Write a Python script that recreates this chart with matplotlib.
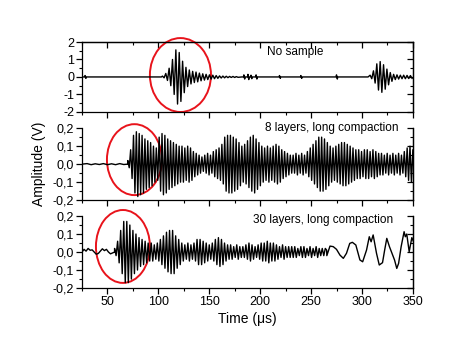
import numpy as np
import matplotlib.pyplot as plt
from matplotlib.patches import Ellipse
from matplotlib.ticker import MultipleLocator

plt.rcParams['font.family'] = ['Liberation Sans', 'DejaVu Sans']

# ---------- panel 1 : no sample (amplitude of each cycle, V) ----------
burst1a_start, burst1a_period = 104.0, 3.3
burst1a_amp = [0.05, 0.2, 0.5, 1.0, 1.55, 1.4, 0.9, 0.55, 0.4, 0.32, 0.28, 0.22,
               0.18, 0.15, 0.12, 0.1, 0.08, 0.06, 0.05, 0.04, 0.03, 0.03, 0.02]
burst1b_start, burst1b_period = 308.0, 3.3
burst1b_amp = [0.1, 0.35, 0.75, 0.88, 0.7, 0.45, 0.25, 0.15, 0.12, 0.1, 0.1, 0.09, 0.08]
blip1_t = [28, 184, 188, 191, 196, 219, 240, 275]
blip1_v = [0.08, 0.12, 0.15, 0.1, 0.12, 0.08, 0.08, 0.12]
flat1_t = [25, 60, 103, 182, 200, 230, 260, 290, 306]

# ---------- panel 2 : 8 layers ----------
pre2_t = [25, 30, 34, 38, 42, 46, 50, 54, 58, 62, 66, 70]
pre2_v = [0, 0.003, -0.003, 0.002, -0.002, 0.003, -0.003, 0.002, -0.003, 0.003, -0.002, 0.0]
burst2_start, burst2_period = 70.0, 2.8
burst2_amp = [0.02, 0.08, 0.16, 0.18, 0.17, 0.16, 0.14, 0.13, 0.12, 0.10, 0.09, 0.15,
              0.17, 0.16, 0.14, 0.13, 0.12, 0.11, 0.10, 0.10, 0.09, 0.10, 0.09, 0.07,
              0.06, 0.05, 0.04, 0.05, 0.06, 0.05, 0.07, 0.08, 0.09, 0.11, 0.15, 0.16,
              0.16, 0.15, 0.14, 0.12, 0.10, 0.11, 0.13, 0.15, 0.16, 0.14, 0.12, 0.10,
              0.09, 0.10, 0.09, 0.10, 0.11, 0.10, 0.08, 0.07, 0.06, 0.05, 0.05, 0.06,
              0.05, 0.06, 0.05, 0.07, 0.09, 0.11, 0.13, 0.15, 0.15, 0.14, 0.12, 0.10,
              0.09, 0.10, 0.11, 0.12, 0.12, 0.11, 0.10, 0.09, 0.08, 0.08, 0.07, 0.08,
              0.08, 0.07, 0.08, 0.07, 0.06, 0.06, 0.05, 0.06, 0.05, 0.06, 0.05, 0.06,
              0.05, 0.07, 0.09, 0.10, 0.08]

# ---------- panel 3 : 30 layers ----------
pre3_t = [25, 27, 29, 31, 33, 35, 37, 39, 41, 43, 45, 47, 49, 51, 53, 55, 57]
pre3_v = [0.0, 0.015, 0.005, 0.02, 0.01, 0.012, 0.0, -0.012, -0.008, 0.005, 0.018,
          0.008, 0.015, 0.0, -0.01, -0.005, 0.0]
burst3_start, burst3_period = 57.0, 3.0
burst3_amp = [0.02, 0.06, 0.12, 0.17, 0.17, 0.15, 0.12, 0.10, 0.08, 0.07, 0.06, 0.05,
              0.05, 0.04, 0.05, 0.07, 0.09, 0.11, 0.12, 0.12, 0.09, 0.07, 0.05, 0.04,
              0.05, 0.04, 0.05, 0.07, 0.07, 0.06, 0.05, 0.04, 0.05, 0.07, 0.08, 0.07,
              0.05, 0.04, 0.04, 0.03, 0.04, 0.03, 0.03, 0.04, 0.05, 0.04, 0.03, 0.04,
              0.05, 0.05, 0.06, 0.05, 0.05, 0.04, 0.03, 0.04, 0.03, 0.03, 0.03, 0.03,
              0.02, 0.03, 0.03, 0.02, 0.03, 0.02, 0.03, 0.02, 0.02, 0.02]
tail3_t = [265.3, 268.6, 271.8, 275.0, 278.4, 281.7, 284.8, 288.0, 290.6, 294.0, 298.0,
           300.7, 304.5, 307.2, 309.0, 311.0, 314.3, 317.0, 320.2, 322.3, 324.4, 327.0,
           332.0, 334.2, 336.0, 338.5, 341.4, 342.6, 344.0, 346.4, 349.0, 350.5]
tail3_v = [0.011, 0.033, 0.03, 0.015, -0.017, -0.035, -0.007, 0.048, 0.054, 0.039, -0.044,
           -0.054, 0.011, 0.085, 0.057, 0.095, -0.007, -0.072, -0.059, 0.011, 0.076, 0.03,
           -0.044, -0.091, -0.063, 0.03, 0.113, 0.085, 0.1, 0.002, 0.08, 0.06]

titles = ["No sample", "8 layers, long compaction", "30 layers, long compaction"]
xticks = [50, 100, 150, 200, 250, 300, 350]


def burst(start, period, amps):
    t, v = [], []
    for k, a in enumerate(amps):
        t += [start + k * period, start + (k + 0.5) * period]
        v += [a, -a]
    return t, v


def merge(*parts):
    t = np.concatenate([np.asarray(p[0], float) for p in parts])
    v = np.concatenate([np.asarray(p[1], float) for p in parts])
    order = np.argsort(t, kind="stable")
    return t[order], v[order]


bl_t, bl_v = [], []
for t, a in zip(blip1_t, blip1_v):
    bl_t += [t - 0.4, t, t + 0.8, t + 1.2]
    bl_v += [0, a, -a, 0]

t1, v1 = merge((flat1_t, [0] * len(flat1_t)), (bl_t, bl_v),
               burst(burst1a_start, burst1a_period, burst1a_amp),
               burst(burst1b_start, burst1b_period, burst1b_amp))
t2, v2 = merge((pre2_t, pre2_v), burst(burst2_start, burst2_period, burst2_amp))
t3, v3 = merge((pre3_t, pre3_v), burst(burst3_start, burst3_period, burst3_amp),
               (tail3_t, tail3_v))

fig = plt.figure(figsize=(4.74, 3.53), dpi=100)
boxes = [[0.173, 0.683, 0.698, 0.198],
         [0.173, 0.433, 0.698, 0.204],
         [0.173, 0.184, 0.698, 0.204]]
axes = [fig.add_axes(b) for b in boxes]

series = [(t1, v1), (t2, v2), (t3, v3)]
for i, (ax, (t, v)) in enumerate(zip(axes, series)):
    ax.plot(t, v, color="black", lw=1.0)
    ax.set_xlim(25, 350)
    ax.set_xticks(xticks)
    ax.xaxis.set_minor_locator(MultipleLocator(25))
    if i == 0:
        ax.set_ylim(-2, 2)
        ax.set_yticks([-2, -1, 0, 1, 2])
        ax.set_yticklabels(["-2", "-1", "0", "1", "2"])
        ax.yaxis.set_minor_locator(MultipleLocator(0.5))
    else:
        ax.set_ylim(-0.2, 0.2)
        ax.set_yticks([-0.2, -0.1, 0.0, 0.1, 0.2])
        ax.set_yticklabels(["-0,2", "-0,1", "0,0", "0,1", "0,2"])
        ax.yaxis.set_minor_locator(MultipleLocator(0.05))
        ax.spines["top"].set_visible(False)
    if i < 2:
        ax.tick_params(axis="x", labelbottom=False)
    for s in ax.spines.values():
        s.set_linewidth(0.9)
    ax.tick_params(which="major", direction="out", length=4, width=0.9, labelsize=9, pad=1.5)
    ax.tick_params(which="minor", direction="out", length=2, width=0.8)

    sec = ax.secondary_yaxis("right")
    sec.set_yticks(ax.get_yticks())
    sec.yaxis.set_minor_locator(MultipleLocator(0.5 if i == 0 else 0.05))
    sec.tick_params(which="major", direction="in", length=4, width=0.9, labelright=False)
    sec.tick_params(which="minor", direction="in", length=2, width=0.8)
    sec.spines["right"].set_linewidth(0.9)
    if i == 0:
        top = ax.secondary_xaxis("top")
        top.set_xticks(xticks)
        top.xaxis.set_minor_locator(MultipleLocator(25))
        top.tick_params(which="major", direction="in", length=4, width=0.9, labeltop=False)
        top.tick_params(which="minor", direction="in", length=2, width=0.8)
        top.spines["top"].set_linewidth(0.9)

axes[0].text(234, 1.45, titles[0], ha="center", va="center", fontsize=8.5)
axes[1].text(270, 0.2, titles[1], ha="center", va="center", fontsize=8.5)
axes[2].text(262, 0.18, titles[2], ha="center", va="center", fontsize=8.5)

# red circles round the first arrival
ell = [(121.7, 0.11, 60, 4.23), (76.5, 0.025, 54, 0.394), (65.2, 0.031, 53, 0.405)]
for ax, (cx, cy, w, h) in zip(axes, ell):
    ax.add_patch(Ellipse((cx, cy), w, h, fill=False, ec="#e8131b", lw=1.4, clip_on=False))

axes[2].set_xlabel("Time (μs)", fontsize=10, labelpad=3)
fig.text(0.082, 0.535, "Amplitude (V)", rotation=90, ha="center", va="center", fontsize=10)

fig.savefig("out.png", dpi=100)
